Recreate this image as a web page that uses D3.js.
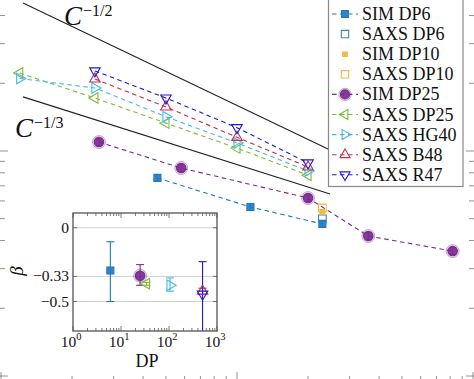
<!DOCTYPE html>
<html><head><meta charset="utf-8">
<script src="https://cdn.jsdelivr.net/npm/d3@7"></script>
<style>body{margin:0;background:#fff}svg{display:block}</style>
</head><body><svg id="c" width="474" height="379"></svg>
<script>
// ---------- main plot data (concentration C vs size, log-log) ----------
const simDP6_x = [4.6, 11.4, 23];
const simDP6_y = [7.59, 5.64, 4.74];
const simDP6_e = [0.25, 0.2, 0.15];
const saxsDP6_x = [23];
const saxsDP6_y = [4.99];
const simDP10_x = [23];
const simDP10_y = [5.36];
const saxsDP10_x = [23];
const saxsDP10_y = [5.58];
const simDP25_x = [2.6, 5.8, 20, 36, 82];
const simDP25_y = [10.96, 8.4, 6.18, 4.19, 3.59];
const simDP25_e = [0.35, 0.28, 0.2, 0.15, 0.13];
const saxsDP25_x = [1.2, 2.5, 5, 10, 20];
const saxsDP25_y = [22.2, 17.2, 13.3, 10.3, 7.8];
const saxsHG40_x = [1.2, 2.5, 5, 10, 20];
const saxsHG40_y = [21.0, 19.05, 14.2, 10.86, 8.15];
const saxsB48_x = [2.5, 5, 10, 20];
const saxsB48_y = [20.9, 15.7, 11.5, 8.49];
const saxsR47_x = [2.5, 5, 10, 20];
const saxsR47_y = [22.7, 17.2, 12.7, 8.85];
// guide lines C^-1/2 and C^-1/3
const guideHalf_x = [1.24, 24.8];
const guideHalf_y = [45.5, 10.1];
const guideThird_x = [1.24, 24.8];
const guideThird_y = [17.4, 6.44];
// ---------- inset data (exponent beta vs DP) ----------
const betaDP  = [6, 25, 34, 105, 500, 500];
const betaVal = [-0.29, -0.325, -0.38, -0.39, -0.43, -0.45];
const betaLo  = [-0.5, -0.39, -0.39, -0.43, -0.45, -0.75];
const betaHi  = [-0.095, -0.25, -0.37, -0.34, -0.41, -0.23];
const betaKey = ["SIM DP6","SIM DP25","SAXS DP25","SAXS HG40","SAXS B48","SAXS R47"];
const insetYTicks = [0, -0.33, -0.5];
const insetYTickLabels = ["0", "\u22120.33", "\u22120.5"];
const insetXTicks = [1, 10, 100, 1000];
const insetXExp = ["0", "1", "2", "3"];

// ---------- styles ----------
const styles = {
  "SIM DP6":   {color:"#1f78c1", sym:d3.symbolSquare, rot:0, size:50, fill:true, line:true},
  "SAXS DP6":  {color:"#2f86c8", sym:d3.symbolSquare, rot:0, size:60, fill:false, line:false},
  "SIM DP10":  {color:"#f2b53a", sym:d3.symbolSquare, rot:0, size:22, fill:true, line:false},
  "SAXS DP10": {color:"#f4b940", sym:d3.symbolSquare, rot:0, size:60, fill:false, line:false},
  "SIM DP25":  {color:"#7a2a8e", sym:d3.symbolCircle, rot:0, size:70, fill:true, line:true},
  "SAXS DP25": {color:"#7dbb3c", sym:d3.symbolTriangle, rot:-90, size:48, fill:false, line:true},
  "SAXS HG40": {color:"#45b8ea", sym:d3.symbolTriangle, rot:90, size:48, fill:false, line:true},
  "SAXS B48":  {color:"#c42f4f", sym:d3.symbolTriangle, rot:0, size:48, fill:false, line:true},
  "SAXS R47":  {color:"#1a1ad8", sym:d3.symbolTriangle, rot:180, size:48, fill:false, line:true}
};
const series = [
  {name:"SIM DP6", x:simDP6_x, y:simDP6_y, e:simDP6_e},
  {name:"SAXS DP6", x:saxsDP6_x, y:saxsDP6_y},
  {name:"SIM DP10", x:simDP10_x, y:simDP10_y},
  {name:"SAXS DP10", x:saxsDP10_x, y:saxsDP10_y},
  {name:"SIM DP25", x:simDP25_x, y:simDP25_y, e:simDP25_e},
  {name:"SAXS DP25", x:saxsDP25_x, y:saxsDP25_y},
  {name:"SAXS HG40", x:saxsHG40_x, y:saxsHG40_y},
  {name:"SAXS B48", x:saxsB48_x, y:saxsB48_y},
  {name:"SAXS R47", x:saxsR47_x, y:saxsR47_y}
];
const legendOrder = ["SIM DP6","SAXS DP6","SIM DP10","SAXS DP10","SIM DP25","SAXS DP25","SAXS HG40","SAXS B48","SAXS R47"];

const svg = d3.select("#c");
const serif = "'Liberation Serif','DejaVu Serif',serif";

// ---------- main scales ----------
const x = d3.scaleLog().domain([1, 100]).range([1, 473]);
const y = d3.scaleLog().domain([1, 100]).range([376, -74]);

// main axis ticks (axes themselves lie just outside the picture)
const xTicks = x.ticks();
const isMajor = v => Math.abs(Math.log10(v) - Math.round(Math.log10(v))) < 1e-9;
svg.append("g").selectAll("line").data(xTicks).join("line")
  .attr("x1", d => x(d)).attr("x2", d => x(d))
  .attr("y1", 381).attr("y2", d => isMajor(d) ? 372 : 376)
  .attr("stroke", "#777").attr("stroke-width", 0.8);
const yTicks = y.ticks();
svg.append("g").selectAll("line").data(yTicks).join("line")
  .attr("x1", -2).attr("x2", d => isMajor(d) ? 8 : 5)
  .attr("y1", d => y(d)).attr("y2", d => y(d))
  .attr("stroke", "#777").attr("stroke-width", 0.8);
svg.append("g").selectAll("line").data(yTicks).join("line")
  .attr("x1", 476).attr("x2", d => isMajor(d) ? 466 : 469)
  .attr("y1", d => y(d)).attr("y2", d => y(d))
  .attr("stroke", "#777").attr("stroke-width", 0.8);

// guide lines
const guideLine = d3.line().x(d => x(d[0])).y(d => y(d[1]));
svg.append("path").attr("d", guideLine(d3.zip(guideHalf_x, guideHalf_y)))
  .attr("stroke", "#222").attr("stroke-width", 1.1).attr("fill", "none");
svg.append("path").attr("d", guideLine(d3.zip(guideThird_x, guideThird_y)))
  .attr("stroke", "#222").attr("stroke-width", 1.1).attr("fill", "none");

// guide labels
function cLabel(xp, yp, sup) {
  const t = svg.append("text").attr("x", xp).attr("y", yp)
    .attr("font-family", serif).attr("fill", "#111");
  t.append("tspan").text("C").attr("font-style", "italic").attr("font-size", 27);
  t.append("tspan").text(sup).attr("font-size", 16).attr("dy", -9).attr("dx", 1);
}
cLabel(64, 25, "\u22121/2");
cLabel(15, 137, "\u22121/3");

// dashed series lines
const line = d3.line().x(d => x(d[0])).y(d => y(d[1]));
series.forEach(s => {
  const st = styles[s.name];
  const pts = d3.zip(s.x, s.y);
  if (st.line && pts.length > 1) {
    svg.append("path").attr("d", line(pts)).attr("fill", "none")
      .attr("stroke", st.color).attr("stroke-width", 1.1)
      .attr("stroke-dasharray", "4.5,3.5");
  }
});

function drawMarker(g, st, px, py, scale) {
  scale = scale || 1;
  const path = d3.symbol().type(st.sym).size(st.size * scale * scale)();
  if (st.sym === d3.symbolCircle) {
    g.append("circle").attr("cx", px).attr("cy", py).attr("r", 6.5 * scale)
      .attr("fill", st.color).attr("fill-opacity", 0.18)
      .attr("stroke", st.color).attr("stroke-opacity", 0.35).attr("stroke-width", 1);
  }
  g.append("path").attr("d", path)
    .attr("transform", `translate(${px},${py}) rotate(${st.rot})`)
    .attr("fill", st.fill ? st.color : "none")
    .attr("fill-opacity", st.fill ? 0.9 : 0)
    .attr("stroke", st.color).attr("stroke-width", 1.1);
}

// error bars + markers
const mg = svg.append("g");
series.forEach(s => {
  const st = styles[s.name];
  s.x.forEach((xv, i) => {
    const px = x(xv), py = y(s.y[i]);
    if (s.e) {
      const y1 = y(s.y[i] + s.e[i]), y2 = y(s.y[i] - s.e[i]);
      mg.append("line").attr("x1", px).attr("x2", px).attr("y1", y1).attr("y2", y2)
        .attr("stroke", st.color).attr("stroke-width", 1);
      [y1, y2].forEach(yy => mg.append("line").attr("x1", px - 3).attr("x2", px + 3)
        .attr("y1", yy).attr("y2", yy).attr("stroke", st.color).attr("stroke-width", 1));
    }
    drawMarker(mg, st, px, py);
  });
});

// ---------- legend ----------
const lg = svg.append("g");
lg.append("rect").attr("x", 328.5).attr("y", -12).attr("width", 134.5).attr("height", 198.5)
  .attr("fill", "#fff").attr("stroke", "#888").attr("stroke-width", 1.2);
legendOrder.forEach((name, i) => {
  const st = styles[name];
  const cy = 14 + i * 20.1;
  if (st.line) {
    lg.append("line").attr("x1", 332).attr("x2", 358).attr("y1", cy).attr("y2", cy)
      .attr("stroke", st.color).attr("stroke-width", 1.1).attr("stroke-dasharray", "4.5,3.5")
      .attr("stroke-dashoffset", 0);
  }
  drawMarker(lg, st, 345, cy, 0.95);
  lg.append("text").attr("x", 362).attr("y", cy + 6).text(name)
    .attr("font-family", serif).attr("font-size", 18).attr("fill", "#111");
});

// ---------- inset ----------
const ix = d3.scaleLog().domain([1, 1000]).range([73, 217]);
const iy = d3.scaleLinear().domain([-0.7, 0.1]).range([331, 213]);
const ig = svg.append("g");
ig.append("rect").attr("x", 73).attr("y", 213).attr("width", 144).attr("height", 118)
  .attr("fill", "#fff");
ig.selectAll(".grid").data(insetYTicks).join("line")
  .attr("x1", 73).attr("x2", 217).attr("y1", d => iy(d)).attr("y2", d => iy(d))
  .attr("stroke", "#d0d0d0").attr("stroke-width", 1);
// x ticks top and bottom
const ixTicks = ix.ticks();
[213, 331].forEach((yy, k) => {
  ig.append("g").selectAll("line").data(ixTicks).join("line")
    .attr("x1", d => ix(d)).attr("x2", d => ix(d))
    .attr("y1", yy).attr("y2", d => yy + (k ? -1 : 1) * (isMajor(d) ? 5 : 3))
    .attr("stroke", "#555").attr("stroke-width", 0.8);
});
// y ticks
ig.append("g").selectAll("line").data(insetYTicks).join("line")
  .attr("x1", 73).attr("x2", 77).attr("y1", d => iy(d)).attr("y2", d => iy(d))
  .attr("stroke", "#555").attr("stroke-width", 0.8);
ig.append("g").selectAll("line").data(insetYTicks).join("line")
  .attr("x1", 217).attr("x2", 213).attr("y1", d => iy(d)).attr("y2", d => iy(d))
  .attr("stroke", "#555").attr("stroke-width", 0.8);
// y tick labels
ig.append("g").selectAll("text").data(insetYTicks).join("text")
  .attr("x", 69).attr("y", d => iy(d) + 5).attr("text-anchor", "end")
  .attr("font-family", serif).attr("font-size", 15.5).attr("fill", "#111")
  .text((d, i) => insetYTickLabels[i]);
// x tick labels
insetXTicks.forEach((v, i) => {
  const t = ig.append("text").attr("x", ix(v) - 2).attr("y", 347).attr("text-anchor", "middle")
    .attr("font-family", serif).attr("font-size", 15.5).attr("fill", "#111");
  t.append("tspan").text("10");
  t.append("tspan").text(insetXExp[i]).attr("font-size", 10.5).attr("dy", -7);
});
ig.append("text").attr("x", 147).attr("y", 367).attr("text-anchor", "middle")
  .attr("font-family", serif).attr("font-size", 18).attr("fill", "#111").text("DP");
ig.append("text").attr("transform", "translate(23,271) rotate(-90)").attr("text-anchor", "middle")
  .attr("font-family", serif).attr("font-style", "italic").attr("font-size", 19)
  .attr("fill", "#111").text("\u03b2");
// inset error bars & markers (clipped)
svg.append("clipPath").attr("id", "ic").append("rect")
  .attr("x", 73).attr("y", 213).attr("width", 144).attr("height", 118);
const idg = ig.append("g").attr("clip-path", "url(#ic)");
betaDP.forEach((dp, i) => {
  const st = styles[betaKey[i]];
  const px = ix(dp);
  idg.append("line").attr("x1", px).attr("x2", px)
    .attr("y1", iy(betaHi[i])).attr("y2", iy(betaLo[i]))
    .attr("stroke", st.color).attr("stroke-width", 1.1);
  [betaHi[i], betaLo[i]].forEach(b => idg.append("line")
    .attr("x1", px - 4).attr("x2", px + 4).attr("y1", iy(b)).attr("y2", iy(b))
    .attr("stroke", st.color).attr("stroke-width", 1.1));
});
betaDP.forEach((dp, i) => {
  const st = styles[betaKey[i]];
  drawMarker(idg, st, ix(dp), iy(betaVal[i]), 1);
});
ig.append("rect").attr("x", 73).attr("y", 213).attr("width", 144).attr("height", 118)
  .attr("fill", "none").attr("stroke", "#555").attr("stroke-width", 1.3);
</script></body></html>
